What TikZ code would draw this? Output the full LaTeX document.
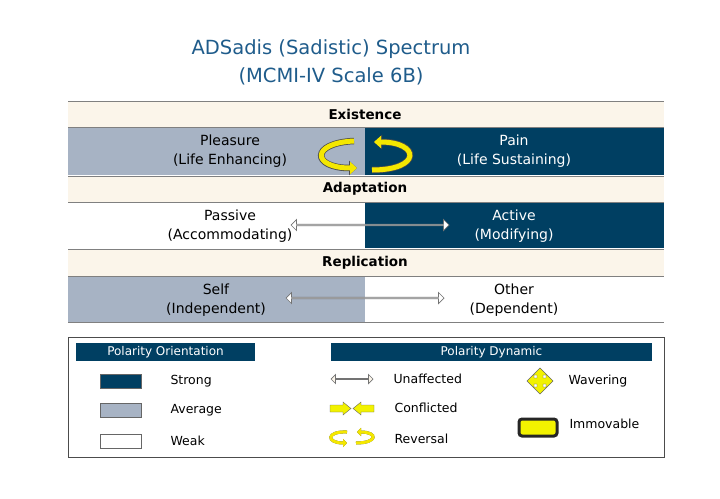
\documentclass[tikz,border=0pt]{standalone}
\usepackage{fontspec}
\setmainfont{DejaVu Sans}
\usetikzlibrary{shapes.arrows,arrows.meta}
\definecolor{navy}{HTML}{003F62}
\definecolor{avg}{HTML}{A7B3C4}
\definecolor{cream}{HTML}{FBF5EA}
\definecolor{titleblue}{HTML}{1F5C8B}
\definecolor{yel}{HTML}{F2F200}
\tikzset{
  band/.style={fill=cream},
  rowtext/.style={align=center, font=\fontsize{14}{19}\selectfont},
  head/.style={font=\bfseries\fontsize{13.5}{16}\selectfont},
  legtext/.style={anchor=west, font=\fontsize{12.5}{15}\selectfont},
  both/.style={double arrow, draw=black!55, line width=0.7pt, fill=white, double arrow head extend=2.5pt, minimum height=#1, minimum width=11pt, inner sep=0pt},
  yarrow/.style={line width=5pt, yellow!90!olive, -{Triangle[length=7pt,width=12pt]}},
  yedge/.style={line width=6.5pt, black!70, -{Triangle[length=8pt,width=14pt]}},
}
\begin{document}
\begin{tikzpicture}[x=1pt, y=-1pt]
  \useasboundingbox (0,0) rectangle (720,498);
  %Titel
  \node[text=titleblue, font=\fontsize{19.5}{28}\selectfont, align=center] (title) at (331,62) {ADSadis (Sadistic) Spectrum\\(MCMI-IV Scale 6B)};

  %Zeilen
  \fill[band] (68,101) rectangle (664,127);
  \fill[avg] (68,128) rectangle (365,175);
  \fill[navy] (365,128) rectangle (664,175);
  \fill[band] (68,177) rectangle (664,202);
  \fill[navy] (365,203) rectangle (664,248);
  \fill[band] (68,250) rectangle (664,276);
  \fill[avg] (68,277) rectangle (365,322);
  \foreach \y in {101,127.5,176,202.5,249,276.5,322}
    \draw[gray, thin] (68,\y) -- (664,\y);

  \node[head] (exist) at (365,114) {Existence};
  \node[head] (adapt) at (365,189) {Adaptation};
  \node[head] (repl) at (365,263) {Replication};
  \node[rowtext] (pleasure) at (230,151) {Pleasure\\(Life Enhancing)};
  \node[rowtext, text=white] (pain) at (514,151) {Pain\\(Life Sustaining)};
  \node[rowtext] (passive) at (230,226) {Passive\\(Accommodating)};
  \node[rowtext, text=white] (active) at (514,226) {Active\\(Modifying)};
  \node[rowtext] (self) at (216,300) {Self\\(Independent)};
  \node[rowtext] (other) at (514,300) {Other\\(Dependent)};

  %Pfeile
  \node[both=158pt] (ada) at (370,225) {};
  \node[both=158pt] (rep) at (365,298) {};
  \foreach \s in {yedge,yarrow}{
    \draw[\s] (354,141) .. controls (310,143) and (312,168) .. (357,168);
    \draw[\s] (372,170) .. controls (422,170) and (420,142) .. (374,142);
  }

  %Legende
  \draw[black!70] (68,337) rectangle (664,457);
  \fill[navy] (76,343) rectangle (255,361);
  \node[text=white, font=\fontsize{12}{14}\selectfont] (po) at (165.5,352) {Polarity Orientation};
  \fill[navy] (331,343) rectangle (652,361);
  \node[text=white, font=\fontsize{12}{14}\selectfont] (pd) at (491.5,352) {Polarity Dynamic};

  \draw[black!60, fill=navy] (100,374) rectangle (141,388);
  \draw[black!60, fill=avg] (100,403) rectangle (141,417);
  \draw[black!60, fill=white] (100,434) rectangle (141,448);
  \node[legtext] (strong) at (167,381) {Strong};
  \node[legtext] (average) at (167,410) {Average};
  \node[legtext] (weak) at (167,441) {Weak};

  \node[both=42pt, fill=cream, minimum width=9pt] (unaff) at (352,379) {};
  \node[legtext] (unafft) at (390,379) {Unaffected};
  \draw[black!60, fill=yel] (330,405) -- (343,405) -- (343,402) -- (351,408.5) -- (343,415) -- (343,412) -- (330,412) -- cycle;
  \draw[black!60, fill=yel] (374,405) -- (361,405) -- (361,402) -- (353,408.5) -- (361,415) -- (361,412) -- (374,412) -- cycle;
  \node[legtext] (confl) at (391,408) {Conflicted};
  \foreach \s in {yedge,yarrow}{
    \draw[\s, line width=3pt, -{Triangle[length=4pt,width=8pt]}] (347,432) .. controls (326,431) and (326,443) .. (347,443);
    \draw[\s, line width=3pt, -{Triangle[length=4pt,width=8pt]}] (356,443) .. controls (378,443) and (378,432) .. (357,432);
  }
  \node[legtext] (rev) at (391,439) {Reversal};

  \draw[black!60, fill=yel] (540,368) -- (547,375) -- (543,375) -- (543,378) -- (546,378) -- (546,374) -- (553,381)
    -- (546,388) -- (546,384) -- (543,384) -- (543,387) -- (547,387) -- (540,394) -- (533,387) -- (537,387) -- (537,384)
    -- (534,384) -- (534,388) -- (527,381) -- (534,374) -- (534,378) -- (537,378) -- (537,375) -- (533,375) -- cycle;
  \node[legtext] (waver) at (565,381) {Wavering};
  \draw[line width=3pt, black!85, fill=yel, rounded corners=3pt] (519,419) rectangle (557,436);
  \node[legtext] (immov) at (566,424) {Immovable};
\end{tikzpicture}
\end{document}
